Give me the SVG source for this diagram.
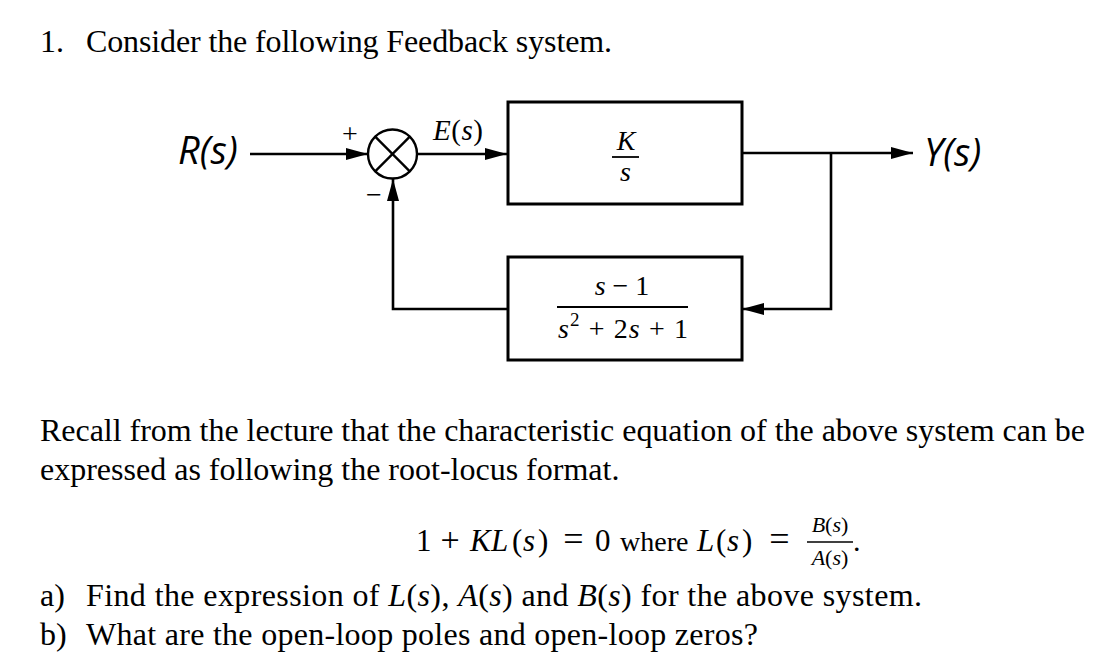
<svg xmlns="http://www.w3.org/2000/svg" width="1119" height="664" viewBox="0 0 1119 664">
<defs>
<style>
.t{font-family:"Liberation Serif","Times New Roman",serif;font-size:32px;fill:#000}
.m{font-family:"Liberation Serif","Times New Roman",serif;fill:#000}
.i{font-style:italic}
.sig{font-family:"Open Sans","Noto Sans",sans-serif;font-style:italic;font-size:38px;fill:#000}
.box{fill:#fff;stroke:#000;stroke-width:3}
.ln{fill:none;stroke:#000;stroke-width:2.6}
.fr{stroke:#000;stroke-width:1.8}
</style>
<marker id="ah" viewBox="0 0 22 12" refX="22" refY="6" markerWidth="22" markerHeight="12" markerUnits="userSpaceOnUse" orient="auto">
<path d="M0,0 L22,6 L0,12 Z" fill="#000"/>
</marker>
</defs>
<rect width="1119" height="664" fill="#fff"/>

<text class="t" x="40" y="52">1.</text>
<text class="t" x="86" y="52" textLength="526" lengthAdjust="spacing">Consider the following Feedback system.</text>

<g id="input-label"><text class="sig" x="178" y="164">R(s)</text></g>

<g id="sum">
<circle cx="392.5" cy="154" r="24.5" fill="#fff" stroke="#000" stroke-width="2.4"/>
<line x1="375.2" y1="136.7" x2="409.8" y2="171.3" stroke="#000" stroke-width="2.4"/>
<line x1="409.8" y1="136.7" x2="375.2" y2="171.3" stroke="#000" stroke-width="2.4"/>
<text class="m" x="350" y="143" font-size="28" text-anchor="middle">+</text>
<text class="m" x="374" y="204" font-size="28" text-anchor="middle">−</text>
</g>

<g id="forward-block">
<rect class="box" x="508" y="102" width="234" height="102"/>
<text class="m i" x="626" y="150" font-size="28" text-anchor="middle">K</text>
<line class="fr" x1="612" y1="157" x2="639" y2="157"/>
<text class="m i" x="625.5" y="181" font-size="28" text-anchor="middle">s</text>
</g>

<g id="feedback-block">
<rect class="box" x="508" y="257" width="234" height="103"/>
<text class="m" x="622" y="295" font-size="28" text-anchor="middle"><tspan class="i">s</tspan> − 1</text>
<line class="fr" x1="557" y1="307" x2="688" y2="307"/>
<text class="m" x="623" y="338" font-size="28" text-anchor="middle" textLength="130" lengthAdjust="spacing"><tspan class="i">s</tspan><tspan font-size="19" dy="-12">2</tspan><tspan dy="12"> + 2</tspan><tspan class="i">s</tspan> + 1</text>
</g>

<g id="output-label"><text class="sig" x="924" y="166">Y(s)</text></g>

<g id="connectors">
<line class="ln" x1="250" y1="154" x2="368" y2="154" marker-end="url(#ah)"/>
<line class="ln" x1="417" y1="154" x2="507" y2="154" marker-end="url(#ah)"/>
<text class="m i" x="433" y="140" font-size="29" textLength="50" lengthAdjust="spacing">E<tspan font-style="normal">(</tspan>s<tspan font-style="normal">)</tspan></text>
<line class="ln" x1="742" y1="153" x2="913" y2="153" marker-end="url(#ah)"/>
<polyline class="ln" points="831,153 831,309 742,309" marker-end="url(#ah)"/>
<polyline class="ln" points="508,309 393,309 393,179" marker-end="url(#ah)"/>
</g>

<text class="t" x="40" y="441" textLength="1045" lengthAdjust="spacing">Recall from the lecture that the characteristic equation of the above system can be</text>
<text class="t" x="40" y="480">expressed as following the root-locus format.</text>

<g id="equation">
<text class="m" y="551" font-size="31"><tspan x="416">1</tspan><tspan x="450" font-size="34" text-anchor="middle">+</tspan><tspan x="470" class="i">K</tspan><tspan x="491" class="i">L</tspan><tspan x="512">(</tspan><tspan x="523" class="i">s</tspan><tspan x="538">)</tspan><tspan x="573.5" font-size="36" text-anchor="middle">=</tspan><tspan x="595">0</tspan><tspan x="620" font-size="28">where</tspan><tspan x="697" class="i">L</tspan><tspan x="716">(</tspan><tspan x="727" class="i">s</tspan><tspan x="742">)</tspan><tspan x="779.5" font-size="36" text-anchor="middle">=</tspan></text>
<text class="m" x="830" y="532" font-size="22" text-anchor="middle"><tspan class="i">B</tspan>(<tspan class="i">s</tspan>)</text>
<line x1="807" y1="542" x2="853" y2="542" stroke="#000" stroke-width="1.6"/>
<text class="m" x="830" y="565" font-size="22" text-anchor="middle"><tspan class="i">A</tspan>(<tspan class="i">s</tspan>)</text>
<text class="m" x="853" y="551" font-size="30">.</text>
</g>

<text class="t" x="40" y="606">a)</text>
<text class="t" x="86" y="606" textLength="836" lengthAdjust="spacing">Find the expression of <tspan class="i">L</tspan>(<tspan class="i">s</tspan>), <tspan class="i">A</tspan>(<tspan class="i">s</tspan>) and <tspan class="i">B</tspan>(<tspan class="i">s</tspan>) for the above system.</text>
<text class="t" x="40" y="645">b)</text>
<text class="t" x="86" y="645" textLength="672" lengthAdjust="spacing">What are the open-loop poles and open-loop zeros?</text>
</svg>
